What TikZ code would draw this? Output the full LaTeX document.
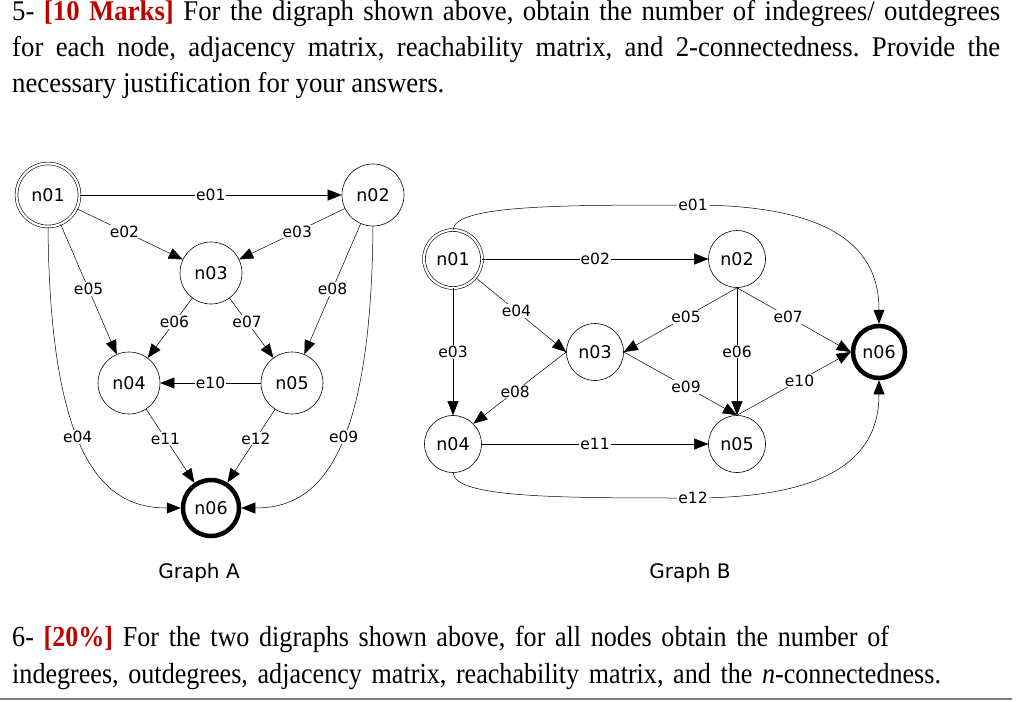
\documentclass[tikz,border=0pt]{standalone}
\usepackage{fontspec}
\setmainfont{Liberation Serif}
\newfontfamily\lblfont{DejaVu Sans}
\newfontfamily\topfont{Liberation Serif}[FakeStretch=0.94]
\newfontfamily\condfont{Liberation Serif}[FakeStretch=0.9]
\usetikzlibrary{arrows.meta}
\definecolor{markred}{RGB}{192,0,0}
\begin{document}
\begin{tikzpicture}[x=1pt,y=-1pt,
  nd/.style={circle,draw,line width=0.6pt,minimum size=57pt,inner sep=0pt,font=\lblfont\fontsize{17.5}{17.5}\selectfont},
  start/.style={nd,double,double distance=2.2pt,minimum size=58pt},
  final/.style={nd,line width=4.5pt,minimum size=52pt},
  ed/.style={line width=0.5pt,-{Triangle[length=14pt,width=11pt]}},
  lb/.style={fill=white,inner sep=1pt,font=\lblfont\fontsize{15.5}{15.5}\selectfont},
  gcap/.style={font=\lblfont\fontsize{20}{20}\selectfont}]
\useasboundingbox (0,0) rectangle (1024,701);
\node[anchor=north west,text width=988pt,align=justify,inner sep=0pt,font=\topfont\fontsize{28.5}{36}\selectfont] (t1) at (12,0)
 {\frenchspacing 5- \textcolor{markred}{\textbf{[10 Marks]}} For the digraph shown above, obtain the number of indegrees/ outdegrees\linebreak for each node, adjacency matrix, reachability matrix, and 2-connectedness. Provide the\linebreak necessary justification for your answers.};
\node[anchor=north west,text width=988pt,inner sep=0pt,font=\condfont\fontsize{29}{37}\selectfont] (t2) at (12,626)
 {\parfillskip=0pt\frenchspacing 6- \textcolor{markred}{\textbf{[20\%]}} For the two digraphs shown above, for all nodes obtain the number of\linebreak indegrees, outdegrees, adjacency matrix, reachability matrix, and the \textit{n}-connectedness.};
\coordinate (r1) at (0,699); \coordinate (r2) at (1012,699);
\draw[gray,line width=2pt] (r1) -- (r2);
% Graph A
\node[start,minimum size=63pt] (a1) at (48,195) {n01};
\node[nd,minimum size=62pt] (a2) at (373,195) {n02};
\node[nd,minimum size=62pt] (a3) at (211,273) {n03};
\node[nd,minimum size=62pt] (a4) at (129,383) {n04};
\node[nd,minimum size=62pt] (a5) at (292,383) {n05};
\node[final,minimum size=56pt] (a6) at (211,508) {n06};
\draw[ed] (a1) -- node[lb]{e01} (a2);
\draw[ed] (a1) -- node[lb,pos=0.45]{e02} (a3);
\draw[ed] (a2) -- node[lb,pos=0.45]{e03} (a3);
\draw[ed] (a1) -- node[lb,pos=0.5]{e05} (a4);
\draw[ed] (a3) -- node[lb,pos=0.4]{e06} (a4);
\draw[ed] (a3) -- node[lb,pos=0.4]{e07} (a5);
\draw[ed] (a2) -- node[lb,pos=0.5]{e08} (a5);
\draw[ed] (a5) -- node[lb]{e10} (a4);
\draw[ed] (a4) -- node[lb,pos=0.4]{e11} (a6);
\draw[ed] (a5) -- node[lb,pos=0.4]{e12} (a6);
\draw[ed] (a1.south) .. controls (50,470) and (110,508) .. node[lb,pos=0.42]{e04} (a6.west);
\draw[ed] (a2.south) .. controls (371,470) and (312,508) .. node[lb,pos=0.42]{e09} (a6.east);
\node[gcap] (ca) at (199,573) {Graph A};
% Graph B
\node[start] (b1) at (453,259) {n01};
\node[nd] (b2) at (737,259) {n02};
\node[nd] (b3) at (595,352) {n03};
\node[nd] (b4) at (453,444) {n04};
\node[nd] (b5) at (737,444) {n05};
\node[final] (b6) at (879,352) {n06};
\draw[ed] (b1) -- node[lb]{e02} (b2);
\draw[ed] (b1) -- node[lb]{e03} (b4);
\draw[ed] (b1) -- node[lb,pos=0.45]{e04} (b3.west);
\draw[ed] (b2.south) -- node[lb,pos=0.45]{e05} (b3.east);
\draw[ed] (b2) -- node[lb]{e06} (b5);
\draw[ed] (b2.south) -- node[lb,pos=0.45]{e07} (b6.west);
\draw[ed] (b3.west) -- node[lb,pos=0.55]{e08} (b4.north east);
\draw[ed] (b3.east) -- node[lb,pos=0.55]{e09} (b5.north);
\draw[ed] (b5.north) -- node[lb,pos=0.55]{e10} (b6.west);
\draw[ed] (b4) -- node[lb]{e11} (b5);
\draw[ed] (b1.north) .. controls (455,205) and (560,205) .. (693,205) .. controls (850,205) and (879,260) .. (b6.north);
\node[lb] (l01) at (693,205) {e01};
\draw[ed] (b4.south) .. controls (455,498) and (560,498) .. (693,498) .. controls (850,498) and (879,444) .. (b6.south);
\node[lb] (l12) at (693,498) {e12};
\node[gcap] (cb) at (690,573) {Graph B};
\end{tikzpicture}
\end{document}
